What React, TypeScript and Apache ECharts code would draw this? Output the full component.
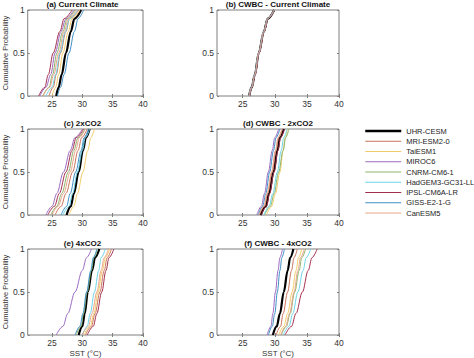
import React, { useEffect, useRef } from "react";
import * as echarts from "echarts";

const models = [
  "UHR-CESM",
  "MRI-ESM2-0",
  "TaiESM1",
  "MIROC6",
  "CNRM-CM6-1",
  "HadGEM3-GC31-LL",
  "IPSL-CM6A-LR",
  "GISS-E2-1-G",
  "CanESM5",
];
const colors = ["#000000", "#C8735A", "#F2CC6B", "#9B6BC0", "#8DB36A", "#6FD3E6", "#A3304F", "#3F8FC4", "#E8A58A"];

// cumulative probability levels
const probLevels = [0, 0.1, 0.25, 0.5, 0.75, 0.9, 1];

// SST (°C) at each probability level, rows in model order
const currentClimate = [
  [25.7, 26.1, 26.6, 27.3, 28.1, 28.7, 29.8],
  [24.5, 25.2, 25.7, 26.4, 27.3, 27.9, 29.4],
  [25.0, 25.6, 26.1, 26.8, 27.7, 28.3, 29.6],
  [23.0, 24.0, 24.8, 25.5, 26.5, 27.3, 28.6],
  [23.5, 24.5, 25.1, 25.8, 26.8, 27.5, 28.8],
  [24.0, 25.0, 25.6, 26.3, 27.2, 27.9, 29.2],
  [22.8, 23.8, 24.4, 25.2, 26.3, 27.0, 28.3],
  [25.9, 26.4, 27.0, 27.8, 28.7, 29.3, 30.2],
  [23.5, 24.6, 25.3, 26.1, 27.0, 27.7, 29.0],
];
const cwbcCurrent = [
  [26.0, 26.4, 26.9, 27.5, 28.3, 28.9, 29.9],
  [26.0, 26.4, 26.9, 27.5, 28.3, 28.9, 29.9],
  [26.0, 26.4, 26.9, 27.5, 28.3, 28.9, 29.9],
  [26.0, 26.4, 26.9, 27.5, 28.3, 28.9, 29.9],
  [26.0, 26.4, 26.9, 27.5, 28.3, 28.9, 29.9],
  [26.0, 26.4, 26.9, 27.5, 28.3, 28.9, 29.9],
  [26.05, 26.45, 26.95, 27.55, 28.35, 28.95, 29.95],
  [26.0, 26.4, 26.9, 27.5, 28.3, 28.9, 29.9],
  [26.0, 26.4, 26.9, 27.5, 28.3, 28.9, 29.9],
];
const twoCO2 = [
  [27.4, 28.1, 28.6, 29.4, 30.1, 30.6, 31.2],
  [25.5, 26.5, 27.3, 28.4, 29.3, 29.9, 30.8],
  [27.8, 28.6, 29.2, 30.1, 30.9, 31.4, 32.0],
  [24.0, 25.0, 25.8, 26.9, 28.0, 28.8, 30.0],
  [24.8, 25.8, 26.6, 27.7, 28.6, 29.3, 30.4],
  [26.8, 27.8, 28.4, 29.2, 30.0, 30.5, 31.2],
  [24.3, 25.4, 26.2, 27.3, 28.3, 29.0, 30.2],
  [26.5, 27.4, 28.0, 28.9, 29.8, 30.3, 31.0],
  [25.0, 26.0, 26.9, 28.0, 28.9, 29.5, 30.5],
];
const cwbcTwoCO2 = [
  [27.8, 28.6, 29.1, 29.8, 30.4, 30.8, 31.4],
  [27.6, 28.4, 28.9, 29.6, 30.2, 30.6, 31.2],
  [28.7, 29.5, 30.1, 30.8, 31.3, 31.6, 32.0],
  [27.2, 27.9, 28.4, 29.0, 29.6, 30.0, 30.6],
  [28.4, 29.3, 29.9, 30.6, 31.3, 31.7, 32.2],
  [28.3, 29.1, 29.7, 30.4, 31.0, 31.4, 31.9],
  [27.9, 28.7, 29.2, 29.9, 30.5, 30.9, 31.5],
  [27.4, 28.1, 28.6, 29.2, 29.8, 30.2, 30.8],
  [27.5, 28.3, 28.8, 29.5, 30.1, 30.5, 31.1],
];
const fourCO2 = [
  [29.4, 30.0, 30.4, 30.9, 31.6, 32.1, 32.8],
  [30.5, 31.5, 32.1, 32.9, 33.6, 34.1, 34.8],
  [30.3, 31.3, 31.9, 32.6, 33.3, 33.8, 34.5],
  [25.7, 26.8, 27.6, 28.8, 30.0, 30.7, 31.5],
  [29.0, 29.8, 30.2, 30.8, 31.5, 31.9, 32.5],
  [30.0, 30.8, 31.3, 32.0, 32.7, 33.1, 33.8],
  [30.8, 31.8, 32.4, 33.2, 33.9, 34.4, 35.2],
  [28.8, 29.6, 30.1, 30.7, 31.4, 31.8, 32.4],
  [30.0, 31.0, 31.6, 32.4, 33.1, 33.6, 34.3],
];
const cwbcFourCO2 = [
  [29.7, 30.3, 30.8, 31.4, 32.0, 32.4, 32.9],
  [30.2, 30.9, 31.3, 32.0, 32.6, 33.0, 33.5],
  [30.6, 31.4, 32.0, 32.7, 33.3, 33.7, 34.2],
  [28.8, 29.4, 29.7, 30.1, 30.5, 30.8, 31.2],
  [31.0, 31.8, 32.4, 33.1, 33.8, 34.2, 34.8],
  [31.3, 32.2, 32.8, 33.6, 34.4, 34.9, 35.6],
  [31.6, 32.6, 33.3, 34.3, 35.2, 35.8, 36.6],
  [29.0, 29.6, 30.0, 30.4, 30.8, 31.1, 31.5],
  [30.9, 31.7, 32.3, 33.0, 33.6, 34.0, 34.6],
];

const panelTitles = [
  "(a) Current Climate",
  "(b) CWBC - Current Climate",
  "(c) 2xCO2",
  "(d) CWBC - 2xCO2",
  "(e) 4xCO2",
  "(f) CWBC - 4xCO2",
];
const panelData = [currentClimate, cwbcCurrent, twoCO2, cwbcTwoCO2, fourCO2, cwbcFourCO2];
const xTicks = [25, 30, 35, 40];
const yTicks = [0, 0.5, 1];

const FONT = "Liberation Sans, Arial, sans-serif";
const AXIS_COLOR = "#7f7f7f";

export default function App() {
  const ref = useRef<HTMLDivElement>(null);
  useEffect(() => {
    document.body.style.margin = "0";
    if (!ref.current) return;
    const chart = echarts.init(ref.current, null, { renderer: "svg" });
    const lefts = [22, 217];
    const tops = [10, 129, 249];
    const grids: any[] = [];
    const xAxes: any[] = [];
    const yAxes: any[] = [];
    const titles: any[] = [];
    const series: any[] = [];
    panelData.forEach((pd, i) => {
      const col = i % 2;
      const row = Math.floor(i / 2);
      const left = lefts[col];
      const top = tops[row];
      const width = col === 0 ? 121 : 122;
      grids.push({
        left,
        top,
        width,
        height: 86,
        show: true,
        borderColor: AXIS_COLOR,
        borderWidth: 1,
        backgroundColor: "#fff",
      });
      const tick = { inside: true, length: 2, customValues: xTicks, lineStyle: { color: AXIS_COLOR } };
      xAxes.push({
        type: "value",
        gridIndex: i,
        min: 21,
        max: 40,
        position: "bottom",
        axisLine: { show: false },
        axisTick: tick,
        splitLine: { show: false },
        axisLabel: { customValues: xTicks, fontSize: 8.5, color: "#333", margin: 3, fontFamily: FONT },
        name: row === 2 ? "SST (°C)" : "",
        nameLocation: "middle",
        nameGap: 14,
        nameTextStyle: { fontSize: 8, color: "#333", fontFamily: FONT },
      });
      xAxes.push({
        type: "value",
        gridIndex: i,
        min: 21,
        max: 40,
        position: "top",
        axisLine: { show: false },
        axisTick: tick,
        splitLine: { show: false },
        axisLabel: { show: false },
      });
      const ytick = { inside: true, length: 2, lineStyle: { color: AXIS_COLOR } };
      yAxes.push({
        type: "value",
        gridIndex: i,
        min: 0,
        max: 1,
        interval: 0.5,
        position: "left",
        axisLine: { show: false },
        axisTick: ytick,
        splitLine: { show: false },
        axisLabel: {
          fontSize: 8.5,
          color: "#333",
          margin: 3,
          fontFamily: FONT,
          formatter: (v: number) => (yTicks.includes(v) ? String(v) : ""),
        },
        name: col === 0 ? "Cumulative Probability" : "",
        nameLocation: "middle",
        nameGap: 14,
        nameTextStyle: { fontSize: 7.5, color: "#333", fontFamily: FONT },
      });
      yAxes.push({
        type: "value",
        gridIndex: i,
        min: 0,
        max: 1,
        interval: 0.5,
        position: "right",
        axisLine: { show: false },
        axisTick: ytick,
        splitLine: { show: false },
        axisLabel: { show: false },
      });
      titles.push({
        text: panelTitles[i],
        left: left + width / 2,
        textAlign: "center",
        top: top - 10,
        padding: 0,
        textStyle: { fontSize: 8, fontWeight: "bold", color: "#111", fontFamily: FONT },
      });
      pd.forEach((vals, j) => {
        series.push({
          type: "line",
          name: models[j],
          xAxisIndex: 2 * i,
          yAxisIndex: 2 * i,
          data: vals.map((t, k) => [t, probLevels[k]]),
          smooth: 0.35,
          smoothMonotone: "x",
          symbol: "none",
          lineStyle: { color: colors[j], width: j === 0 ? 2.2 : 1 },
          itemStyle: { color: colors[j] },
          z: j === 0 ? 2 : 3,
        });
      });
    });
    chart.setOption({
      animation: false,
      title: titles,
      grid: grids,
      xAxis: xAxes,
      yAxis: yAxes,
      legend: {
        data: models.map((m, j) => ({
          name: m,
          lineStyle: { width: j === 0 ? 2.5 : 1, color: colors[j] },
        })),
        orient: "vertical",
        left: 364,
        top: 126,
        itemWidth: 36,
        itemHeight: 10,
        itemGap: 0.25,
        padding: 0,
        itemStyle: { opacity: 0 },
        textStyle: { fontSize: 7.5, color: "#222", fontFamily: FONT, lineHeight: 10 },
      },
      series,
    });
    return () => chart.dispose();
  }, []);
  return <div ref={ref} style={{ width: 474, height: 358 }} />;
}
